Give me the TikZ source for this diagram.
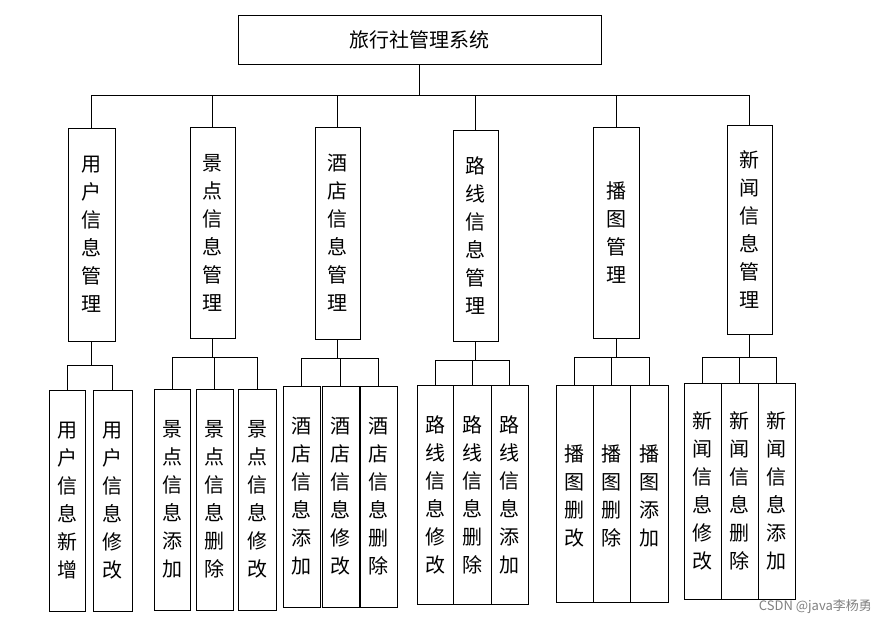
\documentclass[tikz,border=0pt]{standalone}
\usepackage{fontspec}
\setmainfont{Noto Sans CJK SC}
\begin{document}
\begin{tikzpicture}[x=1pt,y=-1pt,
 bx/.style={draw,line width=0.8pt,inner sep=0pt,align=center,font=\fontsize{20}{28}\selectfont},
 ln/.style={line width=0.8pt}]
\useasboundingbox (0,0) rectangle (886,624);
\node[bx,minimum width=363,minimum height=49] (top) at (419.5,39.5) {旅行社管理系统};
% level 2
\node[bx,minimum width=47,minimum height=213] (a) at (91.5,234.5) {用\\户\\信\\息\\管\\理};
\node[bx,minimum width=45,minimum height=211] (b) at (212.5,232.5) {景\\点\\信\\息\\管\\理};
\node[bx,minimum width=45,minimum height=212] (c) at (337.5,233) {酒\\店\\信\\息\\管\\理};
\node[bx,minimum width=45,minimum height=211] (d) at (475.5,235.5) {路\\线\\信\\息\\管\\理};
\node[bx,minimum width=46,minimum height=211] (e) at (616,232.5) {播\\图\\管\\理};
\node[bx,minimum width=45,minimum height=209] (f) at (749.5,229.5) {新\\闻\\信\\息\\管\\理};
\coordinate (bus) at (0,95);
\draw[ln] (top.south) -- (top.south|-bus);
\draw[ln] (a.north|-bus) -- (f.north|-bus);
\foreach \n in {a,b,c,d,e,f} \draw[ln] (\n.north) -- (\n.north|-bus);
% level 3
\node[bx,minimum width=36,minimum height=221] (a1) at (67,500.5) {用\\户\\信\\息\\新\\增};
\node[bx,minimum width=39,minimum height=221] (a2) at (112.5,500.5) {用\\户\\信\\息\\修\\改};
\node[bx,minimum width=36,minimum height=221] (b1) at (172,499.5) {景\\点\\信\\息\\添\\加};
\node[bx,minimum width=37,minimum height=221] (b2) at (214.5,499.5) {景\\点\\信\\息\\删\\除};
\node[bx,minimum width=38,minimum height=221] (b3) at (257,499.5) {景\\点\\信\\息\\修\\改};
\node[bx,minimum width=37,minimum height=221] (c1) at (301.5,496.5) {酒\\店\\信\\息\\添\\加};
\node[bx,minimum width=37,minimum height=221] (c2) at (340.5,496.5) {酒\\店\\信\\息\\修\\改};
\node[bx,minimum width=37,minimum height=221] (c3) at (378.5,496.5) {酒\\店\\信\\息\\删\\除};
\node[bx,minimum width=36,minimum height=219] (d1) at (435,494.5) {路\\线\\信\\息\\修\\改};
\node[bx,minimum width=38,minimum height=219] (d2) at (472,494.5) {路\\线\\信\\息\\删\\除};
\node[bx,minimum width=37,minimum height=219] (d3) at (509.5,494.5) {路\\线\\信\\息\\添\\加};
\node[bx,minimum width=37,minimum height=217,anchor=north] (e1) at (574.5,385) {\\[-8pt]播\\图\\删\\改};
\node[bx,minimum width=37,minimum height=217,anchor=north] (e2) at (611.5,385) {\\[-8pt]播\\图\\删\\除};
\node[bx,minimum width=38,minimum height=217,anchor=north] (e3) at (649,385) {\\[-8pt]播\\图\\添\\加};
\node[bx,minimum width=37,minimum height=216] (f1) at (702.5,491) {新\\闻\\信\\息\\修\\改};
\node[bx,minimum width=37,minimum height=216] (f2) at (739.5,491) {新\\闻\\信\\息\\删\\除};
\node[bx,minimum width=37,minimum height=216] (f3) at (776.5,491) {新\\闻\\信\\息\\添\\加};
% group connectors
\foreach \p/\y/\l/\r/\lst in {a/365/a1/a2/{a1,a2},b/357/b1/b3/{b1,b2,b3},c/358/c1/c3/{c1,c2,c3},d/360/d1/d3/{d1,d2,d3},e/357/e1/e3/{e1,e2,e3},f/357/f1/f3/{f1,f2,f3}}{
 \coordinate (h) at (0,\y);
 \draw[ln] (\p.south) -- (\p.south|-h);
 \draw[ln] (\l.north|-h) -- (\r.north|-h);
 \foreach \k in \lst \draw[ln] (\k.north|-h) -- (\k.north);
}
\node[anchor=south east,text=gray,font=\fontsize{13}{13}\selectfont,inner sep=0pt] (wm) at (872,614) {CSDN @java李杨勇};
\end{tikzpicture}
\end{document}
